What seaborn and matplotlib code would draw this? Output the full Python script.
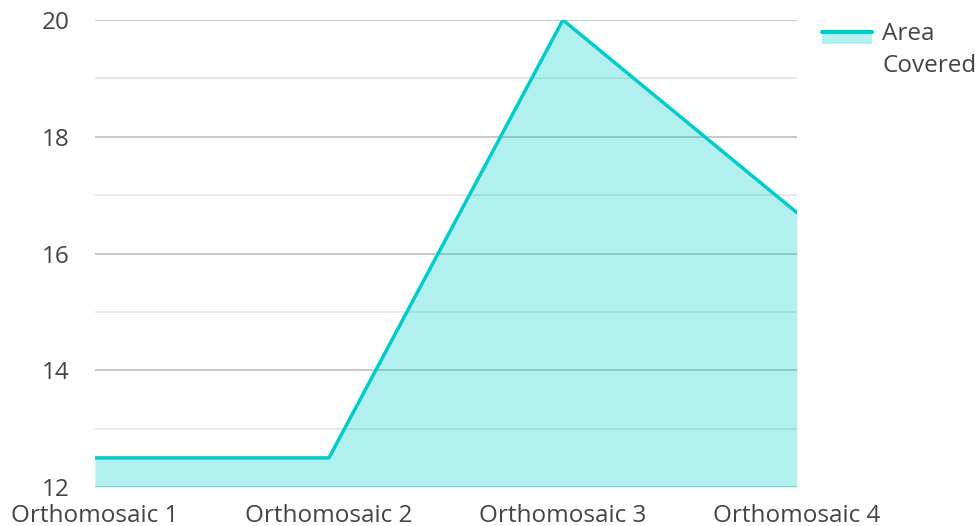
import matplotlib
matplotlib.use("Agg")
import matplotlib.pyplot as plt
import seaborn as sns
from matplotlib.legend_handler import HandlerBase
from matplotlib.lines import Line2D
from matplotlib.patches import Rectangle

# --- data ---
categories = ["Orthomosaic 1", "Orthomosaic 2", "Orthomosaic 3", "Orthomosaic 4"]
area_covered = [12.5, 12.5, 20.0, 16.7]
series_name = "Area\nCovered"
y_major = [12, 14, 16, 18, 20]
y_minor = [13, 15, 17, 19]

LINE = "#00CCCC"
TEXT = "#444444"
FS = 17.5

sns.set_style("white")
plt.rcParams["font.family"] = ["Open Sans", "DejaVu Sans"]

fig = plt.figure(figsize=(9.79, 5.26), dpi=100)
ax = fig.add_axes([0.097, 0.074, 0.717, 0.888])

x = list(range(len(categories)))
ax.fill_between(x, area_covered, 12, color=LINE, alpha=0.3, linewidth=0, zorder=3)
sns.lineplot(x=x, y=area_covered, color=LINE, linewidth=2.5, ax=ax, zorder=4)

ax.set_xlim(0, 3)
ax.set_ylim(12, 20)
ax.set_xticks(x)
ax.set_xticklabels(categories)
ax.set_yticks(y_major)
ax.set_yticks(y_minor, minor=True)
ax.grid(axis="y", which="major", color="#C8C8C8", linewidth=1.4, zorder=1)
ax.grid(axis="y", which="minor", color="#E8E8E8", linewidth=1.4, zorder=1)
ax.grid(axis="x", visible=False)
ax.set_axisbelow(True)
for s in ax.spines.values():
    s.set_visible(False)
ax.tick_params(axis="both", which="both", length=0, labelsize=FS, labelcolor=TEXT)
ax.tick_params(axis="y", pad=18)
ax.tick_params(axis="x", pad=12)
ax.set_xlabel("")
ax.set_ylabel("")


class AreaHandler(HandlerBase):
    # line on top of a light band, like the reference legend swatch
    def create_artists(self, legend, orig, xd, yd, w, h, fontsize, trans):
        top = yd + h + 0.42 * fontsize
        rect = Rectangle((xd, top - 0.5 * fontsize), w, 0.5 * fontsize, facecolor=LINE,
                         alpha=0.3, linewidth=0, transform=trans)
        line = Line2D([xd, xd + w], [top, top], color=LINE, linewidth=3, transform=trans)
        return [rect, line]


handle = Rectangle((0, 0), 1, 1)
leg = fig.legend([handle], [series_name], handler_map={Rectangle: AreaHandler()},
                 loc="upper left", bbox_to_anchor=(0.830, 0.977), frameon=False,
                 fontsize=FS, labelcolor=TEXT, handlelength=2.06, handletextpad=0.41,
                 borderaxespad=0)
for t in leg.get_texts():
    t.set_linespacing(1.45)

fig.savefig("out.png", dpi=100)
